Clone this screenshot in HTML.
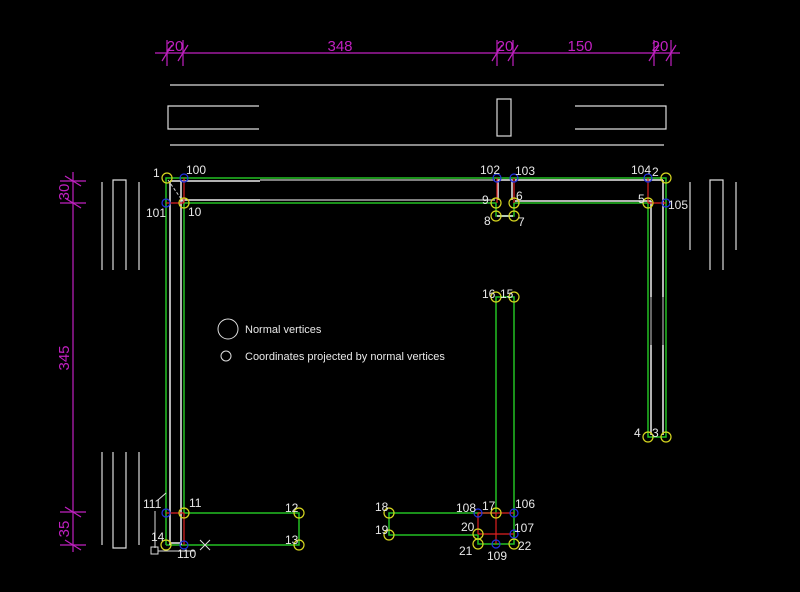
<!DOCTYPE html>
<html><head><style>html,body{margin:0;padding:0;background:#000}svg{display:block}text{font-family:"Liberation Sans",sans-serif}</style></head><body>
<svg width="800" height="592" viewBox="0 0 800 592" xmlns="http://www.w3.org/2000/svg">
<rect width="800" height="592" fill="#000"/>
<g stroke="#c020c0" stroke-width="1.2" fill="none">
<line x1="155" y1="53" x2="680" y2="53"/>
<line x1="167" y1="40" x2="167" y2="66"/><line x1="183" y1="40" x2="183" y2="66"/>
<line x1="497" y1="40" x2="497" y2="66"/><line x1="513" y1="40" x2="513" y2="66"/>
<line x1="654" y1="40" x2="654" y2="66"/><line x1="671" y1="40" x2="671" y2="66"/>
<line x1="162" y1="61" x2="172" y2="45"/><line x1="178" y1="61" x2="188" y2="45"/>
<line x1="492" y1="61" x2="502" y2="45"/><line x1="508" y1="61" x2="518" y2="45"/>
<line x1="649" y1="61" x2="659" y2="45"/><line x1="666" y1="61" x2="676" y2="45"/>
<line x1="73" y1="172" x2="73" y2="552"/>
<line x1="60" y1="181" x2="86" y2="181"/><line x1="60" y1="203" x2="86" y2="203"/>
<line x1="60" y1="512" x2="86" y2="512"/><line x1="60" y1="545" x2="86" y2="545"/>
<line x1="65" y1="176" x2="81" y2="186"/><line x1="65" y1="198" x2="81" y2="208"/>
<line x1="65" y1="507" x2="81" y2="517"/><line x1="65" y1="540" x2="81" y2="550"/>
</g>
<g fill="#c020c0" font-size="15">
<text x="175" y="51" text-anchor="middle">20</text>
<text x="340" y="51" text-anchor="middle">348</text>
<text x="505" y="51" text-anchor="middle">20</text>
<text x="580" y="51" text-anchor="middle">150</text>
<text x="660" y="51" text-anchor="middle">20</text>
<text transform="translate(69,192) rotate(-90)" text-anchor="middle">30</text>
<text transform="translate(69,358) rotate(-90)" text-anchor="middle">345</text>
<text transform="translate(69,529) rotate(-90)" text-anchor="middle">35</text>
</g>
<g stroke="#ddd" stroke-width="1.2" fill="none">
<line x1="170" y1="85" x2="664" y2="85"/>
<line x1="170" y1="145" x2="664" y2="145"/>
<polyline points="259,106 168,106 168,129 259,129"/>
<rect x="497" y="99" width="14" height="37"/>
<polyline points="575,106 666,106 666,129 575,129"/>
<line x1="102" y1="182" x2="102" y2="270"/><line x1="139" y1="182" x2="139" y2="270"/>
<polyline points="113,270 113,180 126,180 126,270"/>
<line x1="102" y1="452" x2="102" y2="545"/><line x1="139" y1="452" x2="139" y2="545"/>
<polyline points="113,452 113,548 126,548 126,452"/>
<line x1="690" y1="182" x2="690" y2="250"/><line x1="736" y1="182" x2="736" y2="250"/>
<polyline points="710,270 710,180 723,180 723,270"/>
</g>
<g stroke="#22c022" stroke-width="1.5" fill="none">
<polyline points="166,545 166,178 666,178 666,437 648,437 648,203 514,203 514,216 496,216 496,203 184,203 184,513 299,513 299,545 166,545"/>
<polyline points="496,513 496,297 514,297 514,544 478,544 478,535 389,535 389,513 496,513"/>
</g>
<g stroke="#eee" stroke-width="1.5" fill="none">
<line x1="170" y1="181" x2="260" y2="181"/><line x1="170" y1="181" x2="170" y2="545"/>
<line x1="181" y1="181" x2="181" y2="545"/>
<line x1="170" y1="543" x2="181" y2="543"/>
<line x1="181" y1="200" x2="260" y2="200"/>
<line x1="260" y1="180" x2="495" y2="180" stroke="#aaa"/>
<line x1="260" y1="200" x2="495" y2="200" stroke="#aaa"/>
<polyline points="498,200 498,180 512,180 512,200"/>
<line x1="515" y1="180" x2="663" y2="180"/><line x1="515" y1="201" x2="651" y2="201"/>
<line x1="663" y1="180" x2="663" y2="297"/><line x1="651" y1="201" x2="651" y2="297"/>
<line x1="663" y1="345" x2="663" y2="435"/><line x1="651" y1="345" x2="651" y2="435"/>
<line x1="663" y1="297" x2="663" y2="345" stroke="#888"/><line x1="651" y1="297" x2="651" y2="345" stroke="#888"/>
<line x1="497" y1="216" x2="513" y2="216"/>
</g>
<line x1="168" y1="180" x2="184" y2="203" stroke="#ccc" stroke-dasharray="3,2"/>
<g stroke="#e02020" stroke-width="1.2">
<line x1="184" y1="178" x2="184" y2="203"/><line x1="166" y1="203" x2="184" y2="203"/>
<line x1="497" y1="178" x2="497" y2="203"/><line x1="514" y1="178" x2="514" y2="203"/>
<line x1="648" y1="178" x2="648" y2="203"/><line x1="648" y1="203" x2="666" y2="203"/>
<line x1="166" y1="513" x2="184" y2="513"/><line x1="184" y1="513" x2="184" y2="545"/>
<line x1="478" y1="513" x2="514" y2="513"/><line x1="478" y1="513" x2="478" y2="534"/>
<line x1="478" y1="534" x2="514" y2="534"/><line x1="496" y1="513" x2="496" y2="544"/>
</g>
<g stroke="#2030e0" stroke-width="1.2" fill="none">
<circle cx="184" cy="178" r="4"/><circle cx="166" cy="203" r="4"/><circle cx="497" cy="178" r="4"/><circle cx="514" cy="178" r="4"/>
<circle cx="648" cy="178" r="4"/><circle cx="666" cy="203" r="4"/><circle cx="166" cy="513" r="4"/><circle cx="184" cy="545" r="4"/>
<circle cx="478" cy="513" r="4"/><circle cx="514" cy="513" r="4"/><circle cx="514" cy="534" r="4"/><circle cx="496" cy="544" r="4"/>
</g>
<g stroke="#d8d820" stroke-width="1.2" fill="none">
<circle cx="167" cy="178" r="5"/><circle cx="184" cy="203" r="5"/><circle cx="666" cy="178" r="5"/><circle cx="648" cy="203" r="5"/>
<circle cx="496" cy="203" r="5"/><circle cx="514" cy="203" r="5"/><circle cx="496" cy="216" r="5"/><circle cx="514" cy="216" r="5"/>
<circle cx="648" cy="437" r="5"/><circle cx="666" cy="437" r="5"/><circle cx="496" cy="297" r="5"/><circle cx="514" cy="297" r="5"/>
<circle cx="496" cy="513" r="5"/><circle cx="478" cy="534" r="5"/><circle cx="478" cy="544" r="5"/><circle cx="514" cy="544" r="5"/>
<circle cx="389" cy="513" r="5"/><circle cx="389" cy="535" r="5"/><circle cx="184" cy="513" r="5"/><circle cx="299" cy="513" r="5"/>
<circle cx="299" cy="545" r="5"/><circle cx="166" cy="545" r="5"/>
</g>
<g stroke="#ddd" stroke-width="1" fill="none">
<line x1="155" y1="511" x2="155" y2="548"/><rect x="151" y="547" width="7" height="7"/><line x1="158" y1="551" x2="195" y2="551"/>
<line x1="200" y1="540" x2="210" y2="550"/><line x1="200" y1="550" x2="210" y2="540"/>
<line x1="158" y1="500" x2="166" y2="493"/>
<circle cx="228" cy="329" r="10"/><circle cx="226" cy="356" r="5"/>
</g>
<g fill="#e8e8e8" font-size="12">
<text x="245" y="333" font-size="11">Normal vertices</text>
<text x="245" y="360" font-size="11">Coordinates projected by normal vertices</text>
<text x="153" y="177">1</text><text x="186" y="174">100</text><text x="146" y="217">101</text><text x="188" y="216">10</text>
<text x="480" y="174">102</text><text x="515" y="175">103</text><text x="482" y="204">9</text><text x="516" y="200">6</text>
<text x="484" y="225">8</text><text x="518" y="226">7</text><text x="631" y="174">104</text><text x="652" y="176">2</text>
<text x="638" y="203">5</text><text x="668" y="209">105</text><text x="634" y="437">4</text><text x="652" y="437">3</text>
<text x="482" y="298">16</text><text x="500" y="298">15</text><text x="482" y="510">17</text><text x="515" y="508">106</text>
<text x="456" y="512">108</text><text x="514" y="532">107</text><text x="461" y="531">20</text><text x="459" y="555">21</text>
<text x="518" y="550">22</text><text x="487" y="560">109</text><text x="375" y="511">18</text><text x="375" y="534">19</text>
<text x="189" y="507">11</text><text x="285" y="512">12</text><text x="285" y="544">13</text><text x="143" y="508">111</text>
<text x="151" y="541">14</text><text x="177" y="558">110</text>
</g>
</svg>
</body></html>
